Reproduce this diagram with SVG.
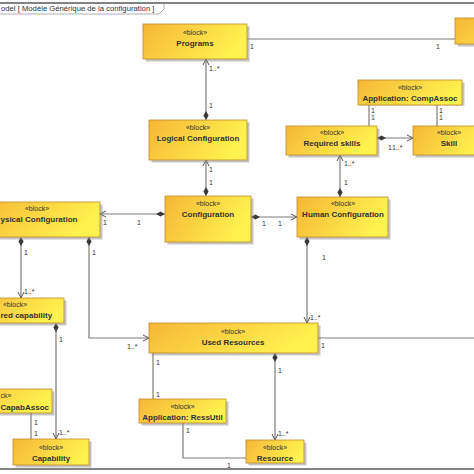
<svg xmlns="http://www.w3.org/2000/svg" width="474" height="474" viewBox="0 0 474 474">
<style>
.sh{fill:#8c8c8c;opacity:.5}
.bx{fill:url(#g);stroke:#c08a2c;stroke-width:.8}
.st{font-family:"Liberation Sans",Arial,sans-serif;font-size:7px;fill:#333;text-anchor:middle}
.nm{font-family:"Liberation Sans",Arial,sans-serif;font-size:8px;font-weight:bold;fill:#333;text-anchor:middle}
.l{text-anchor:start}
.c{fill:none;stroke:#7d7d7d;stroke-width:1.2}
.lb{font-family:"Liberation Sans",Arial,sans-serif;font-size:7px;fill:#333}
.fr{fill:none;stroke:#5a5a5a;stroke-width:1.6}
.tab{fill:none;stroke:#9a9a9a;stroke-width:.8}
.tt{font-family:"Liberation Sans",Arial,sans-serif;font-size:7.7px;fill:#333}
</style>
<defs>
<linearGradient id="g" x1="0" y1="0" x2="1" y2="0.3">
<stop offset="0" stop-color="#f6b636"/>
<stop offset="1" stop-color="#fff24e"/>
</linearGradient>
<marker id="d" markerUnits="userSpaceOnUse" viewBox="-1 -4 12 8" markerWidth="12" markerHeight="8" refX="0" refY="0" orient="auto">
<path d="M0,0 L4.5,-2.6 L9,0 L4.5,2.6Z" fill="#3a3a3a"/>
</marker>
<marker id="a" markerUnits="userSpaceOnUse" viewBox="-8 -4 9 8" markerWidth="9" markerHeight="8" refX="0" refY="0" orient="auto">
<path d="M-6,-3 L0,0 L-6,3" fill="none" stroke="#555" stroke-width="1"/>
</marker>
</defs>
<rect width="474" height="474" fill="#fff"/>
<g id="frame">
<line class="fr" x1="0" y1="3" x2="474" y2="3"/>
<line class="fr" x1="0" y1="469" x2="474" y2="469"/>
<path class="tab" d="M0,14 L159,14 L164,9 L164,3"/>
<text class="tt" x="1" y="11">odel [ Modèle Générique de la configuration ]</text>
</g>
<g id="connectors">
<path class="c" d="M247,39 L455,39"/>
<path class="c" d="M206,120 L206,59" marker-start="url(#d)" marker-end="url(#a)"/>
<path class="c" d="M206,196 L206,160" marker-start="url(#d)" marker-end="url(#a)"/>
<path class="c" d="M165,214 L100,214" marker-start="url(#d)" marker-end="url(#a)"/>
<path class="c" d="M251,217 L297,217" marker-start="url(#d)" marker-end="url(#a)"/>
<path class="c" d="M340,197 L340,155" marker-start="url(#d)" marker-end="url(#a)"/>
<path class="c" d="M377,138 L413,138" marker-start="url(#d)" marker-end="url(#a)"/>
<path class="c" d="M369,105 L369,126"/>
<path class="c" d="M437,105 L437,126"/>
<path class="c" d="M307,237 L307,323" marker-start="url(#d)" marker-end="url(#a)"/>
<path class="c" d="M89,237 L89,338 L149,338" marker-start="url(#d)" marker-end="url(#a)"/>
<path class="c" d="M21,237 L21,298" marker-start="url(#d)" marker-end="url(#a)"/>
<path class="c" d="M56,323 L56,439" marker-start="url(#d)" marker-end="url(#a)"/>
<path class="c" d="M31,413 L31,439"/>
<path class="c" d="M318,338 L474,338"/>
<path class="c" d="M153,353 L153,399"/>
<path class="c" d="M275,353 L275,440" marker-start="url(#d)" marker-end="url(#a)"/>
<path class="c" d="M183,423 L183,458 L246,458"/>
<text class="lb" x="250" y="49">1</text>
<text class="lb" x="436" y="49">1</text>
<text class="lb" x="209" y="71">1..*</text>
<text class="lb" x="209" y="108">1</text>
<text class="lb" x="209" y="172">1</text>
<text class="lb" x="209" y="185">1</text>
<text class="lb" x="103" y="225">1</text>
<text class="lb" x="137" y="225">1</text>
<text class="lb" x="262" y="226">1</text>
<text class="lb" x="278" y="226">1</text>
<text class="lb" x="344" y="166">1..*</text>
<text class="lb" x="344" y="185">1</text>
<text class="lb" x="388" y="150">1</text>
<text class="lb" x="392" y="150">1..*</text>
<text class="lb" x="371" y="113">1</text>
<text class="lb" x="371" y="120">1</text>
<text class="lb" x="439" y="113">1</text>
<text class="lb" x="439" y="120">1</text>
<text class="lb" x="322" y="260">1</text>
<text class="lb" x="310" y="320">1..*</text>
<text class="lb" x="92" y="255">1</text>
<text class="lb" x="127" y="349">1..*</text>
<text class="lb" x="24" y="255">1</text>
<text class="lb" x="24" y="294">1..*</text>
<text class="lb" x="59" y="342">1</text>
<text class="lb" x="59" y="435">1..*</text>
<text class="lb" x="34" y="425">1</text>
<text class="lb" x="34" y="436">1</text>
<text class="lb" x="321" y="348">1</text>
<text class="lb" x="156" y="365">1</text>
<text class="lb" x="156" y="397">1</text>
<text class="lb" x="278" y="373">1</text>
<text class="lb" x="278" y="436">1..*</text>
<text class="lb" x="186" y="433">1</text>
<text class="lb" x="227" y="468">1</text>
</g>
<g id="programs">
<rect class="sh" x="145.5" y="26.5" width="104" height="35"/>
<rect class="bx" x="143" y="24" width="104" height="35"/>
<text class="st" x="195" y="34.5">«block»</text>
<text class="nm" x="195" y="46">Programs</text>
</g>
<g id="topright">
<rect class="sh" x="457.5" y="20.5" width="105" height="26"/>
<rect class="bx" x="455" y="18" width="105" height="26"/>
</g>
<g id="logical">
<rect class="sh" x="151.5" y="122.5" width="98" height="40"/>
<rect class="bx" x="149" y="120" width="98" height="40"/>
<text class="st" x="198" y="129.5">«block»</text>
<text class="nm" x="198" y="141">Logical Configuration</text>
</g>
<g id="configuration">
<rect class="sh" x="167.5" y="198.5" width="86" height="46"/>
<rect class="bx" x="165" y="196" width="86" height="46"/>
<text class="st" x="208" y="205.5">«block»</text>
<text class="nm" x="208" y="217">Configuration</text>
</g>
<g id="human">
<rect class="sh" x="299.5" y="199.5" width="91" height="40"/>
<rect class="bx" x="297" y="197" width="91" height="40"/>
<text class="st" x="343" y="205.5">«block»</text>
<text class="nm" x="343" y="217">Human Configuration</text>
</g>
<g id="compassoc">
<rect class="sh" x="360.5" y="82.5" width="104" height="23"/>
<rect class="bx" x="358" y="80" width="104" height="25"/>
<text class="st" x="410" y="90">«block»</text>
<text class="nm" x="410" y="101">Application: CompAssoc</text>
</g>
<g id="reqskills">
<rect class="sh" x="288.5" y="128.5" width="91" height="29"/>
<rect class="bx" x="286" y="126" width="91" height="29"/>
<text class="st" x="332" y="134.5">«block»</text>
<text class="nm" x="332" y="146">Required skills</text>
</g>
<g id="skill">
<rect class="sh" x="415.5" y="128.5" width="72" height="29"/>
<rect class="bx" x="413" y="126" width="72" height="29"/>
<text class="st" x="449" y="134.5">«block»</text>
<text class="nm" x="449" y="146">Skill</text>
</g>
<g id="physical">
<rect class="sh" x="-23.5" y="204.5" width="126" height="35"/>
<rect class="bx" x="-26" y="202" width="126" height="35"/>
<text class="st" x="37" y="210.5">«block»</text>
<text class="nm l" x="0.5" y="222">ysical Configuration</text>
</g>
<g id="reqcapability">
<rect class="sh" x="-31.5" y="300.5" width="98" height="25"/>
<rect class="bx" x="-34" y="298" width="98" height="25"/>
<text class="st" x="15" y="306.5">«block»</text>
<text class="nm l" x="0.5" y="318">red capability</text>
</g>
<g id="usedresources">
<rect class="sh" x="151.5" y="325.5" width="169" height="30"/>
<rect class="bx" x="149" y="323" width="169" height="30"/>
<text class="st" x="233" y="333.5">«block»</text>
<text class="nm" x="233" y="345">Used Resources</text>
</g>
<g id="capabassoc">
<rect class="sh" x="-49.5" y="391.5" width="104" height="24"/>
<rect class="bx" x="-52" y="389" width="104" height="24"/>
<text class="st l" x="0.5" y="397.5">ck»</text>
<text class="nm l" x="0.5" y="409.5">CapabAssoc</text>
</g>
<g id="capability">
<rect class="sh" x="15.5" y="441.5" width="76" height="26"/>
<rect class="bx" x="13" y="439" width="76" height="26"/>
<text class="st" x="51" y="449.5">«block»</text>
<text class="nm" x="51" y="461">Capability</text>
</g>
<g id="ressutil">
<rect class="sh" x="141.5" y="401.5" width="87" height="24"/>
<rect class="bx" x="139" y="399" width="87" height="24"/>
<text class="st" x="182.5" y="408.5">«block»</text>
<text class="nm" x="182.5" y="420">Application: RessUtil</text>
</g>
<g id="resource">
<rect class="sh" x="248.5" y="442.5" width="58" height="23"/>
<rect class="bx" x="246" y="440" width="58" height="23"/>
<text class="st" x="275" y="449.5">«block»</text>
<text class="nm" x="275" y="461">Resource</text>
</g>
</svg>
